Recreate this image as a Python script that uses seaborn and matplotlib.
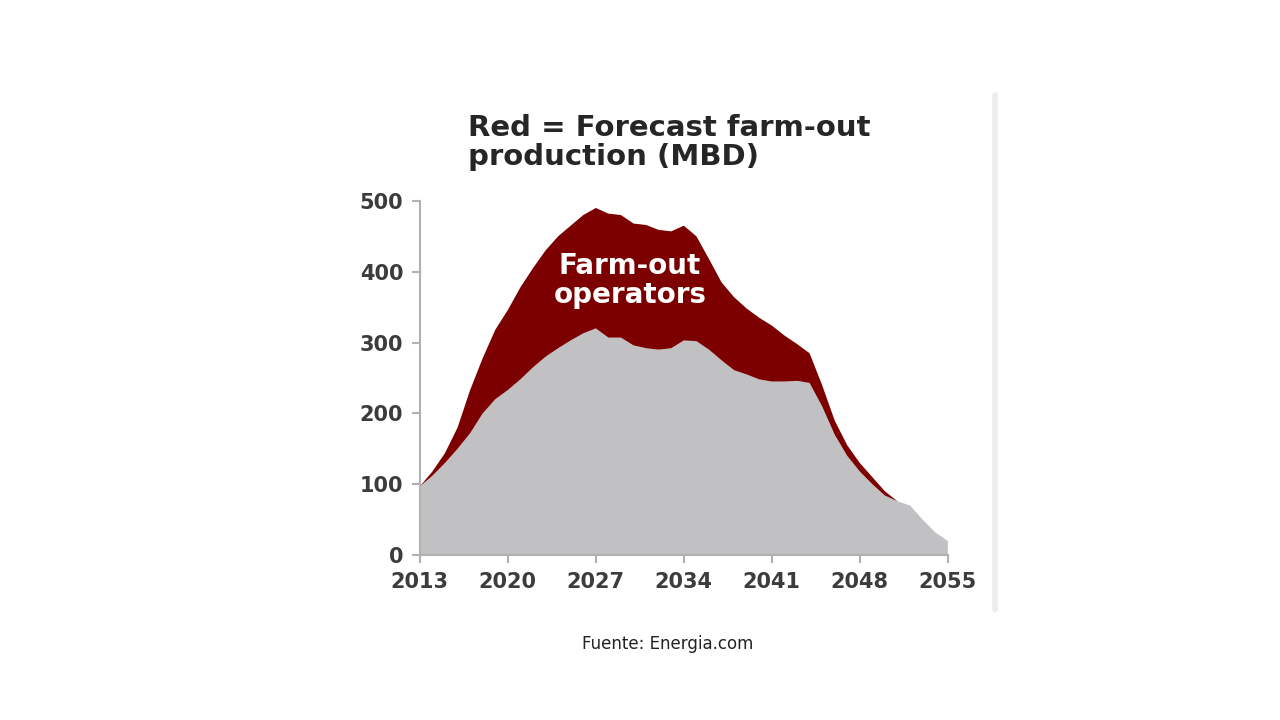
import numpy as np
import matplotlib
matplotlib.use("Agg")
import matplotlib.pyplot as plt
import seaborn as sns
from matplotlib.lines import Line2D

# Data (MBD)
years = list(range(2013, 2056))
base = [97, 112, 130, 150, 172, 200, 220, 233, 248, 265,
        280, 292, 303, 313, 320, 307, 307, 296, 292, 290,
        292, 303, 302, 290, 275, 261, 255, 248, 245, 245,
        246, 243, 210, 170, 140, 118, 100, 84, 76, 70,
        50, 32, 20]
total = [97, 118, 144, 180, 233, 278, 318, 346, 378, 405,
         430, 450, 465, 480, 490, 482, 480, 468, 466, 459,
         457, 465, 450, 418, 385, 364, 348, 335, 324, 310,
         298, 285, 240, 190, 155, 130, 110, 90, 76, 70,
         50, 32, 20]
farmout = [t - b for t, b in zip(total, base)]
xticks = [2013, 2020, 2027, 2034, 2041, 2048, 2055]
yticks = [0, 100, 200, 300, 400, 500]

sns.set_theme(style="white")
plt.rcParams['font.family'] = ['DejaVu Sans']

fig = plt.figure(figsize=(12.8, 7.2), dpi=100)
ax = fig.add_axes([0.328, 0.229, 0.4125, 0.492])

ax.stackplot(years, base, farmout, colors=["#c1c0c2", "#7d0000"],
             edgecolor="none")

ax.set_xlim(2013, 2055)
ax.set_ylim(0, 500)
ax.set_xticks(xticks)
ax.set_yticks(yticks)
for s in ["top", "right"]:
    ax.spines[s].set_visible(False)
for s in ["left", "bottom"]:
    ax.spines[s].set_color("#b0b0b0")
    ax.spines[s].set_linewidth(1.5)
ax.tick_params(axis="both", which="major", direction="out", length=6,
               width=1.5, color="#b0b0b0", labelsize=15, labelcolor="#3c3c3c",
               pad=6, left=True, bottom=True)
for lab in ax.get_xticklabels() + ax.get_yticklabels():
    lab.set_fontweight("bold")

ax.text(2029.7, 387, "Farm-out\noperators", color="white", fontsize=20,
        fontweight="bold", ha="center", va="center", linespacing=1.05)

fig.text(468 / 1280, 1 - 114 / 720, "Red = Forecast farm-out\nproduction (MBD)",
         fontsize=21, fontweight="bold", color="#262626", ha="left", va="top",
         linespacing=1.05)

fig.text(668 / 1280, 1 - 644 / 720, "Fuente: Energia.com", fontsize=12,
         color="#222222", ha="center", va="center")

fig.add_artist(Line2D([995 / 1280, 995 / 1280], [1 - 95 / 720, 1 - 610 / 720],
                      transform=fig.transFigure, color="#ececec", lw=4))

fig.savefig("out.png", dpi=100, facecolor="white")
